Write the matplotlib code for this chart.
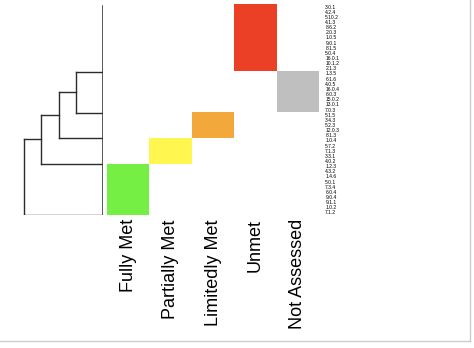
import matplotlib
matplotlib.use("Agg")
import matplotlib.pyplot as plt
from matplotlib.colors import ListedColormap
from matplotlib.lines import Line2D
import numpy as np

plt.rcParams['font.family'] = ['Liberation Sans', 'DejaVu Sans']

# columns of the heatmap
status_cols = ["Fully Met", "Partially Met", "Limitedly Met", "Unmet", "Not Assessed"]
status_colors = ["#76EF45", "#FFF650", "#F3A83B", "#EB4026", "#BFBFBF"]

# rows, top to bottom, grouped by status
unmet = ["3.0.1", "4.2.4", "5.10.2", "4.1.3", "8.6.2", "2.0.3", "1.0.5",
         "9.0.1", "8.1.5", "5.0.4", "16.0.1", "10.1.2", "2.1.3"]
not_assessed = ["1.3.5", "6.1.6", "4.0.5", "16.0.4", "6.0.3", "15.0.2", "13.0.1", "7.0.3"]
limitedly_met = ["5.1.5", "3.4.3", "5.2.3", "12.0.3", "8.1.3"]
partially_met = ["1.0.4", "5.7.2", "7.1.3", "3.3.1", "4.0.2"]
fully_met = ["1.2.3", "4.3.2", "1.4.6", "5.0.1", "7.3.4", "6.0.4", "9.0.4", "9.1.1", "1.0.2", "7.1.2"]

# order of groups down the heatmap (column index of each) and merge heights of the tree
groups = [(unmet, 3), (not_assessed, 4), (limitedly_met, 2), (partially_met, 1), (fully_met, 0)]
merge_heights = [27, 44, 62, 79]

row_labels = []
codes = []
for labels, col in groups:
    for lab in labels:
        row_labels.append(lab)
        row = np.zeros(len(status_cols))
        row[col] = col + 1
        codes.append(row)
codes = np.array(codes)
n_rows = len(row_labels)

W, H = 474, 348
fig = plt.figure(figsize=(W / 100, H / 100), dpi=100)

# heatmap
ax = fig.add_axes([107 / W, 1 - 215 / H, 212 / W, 211 / H])
cmap = ListedColormap(["white"] + status_colors)
ax.imshow(codes, cmap=cmap, vmin=-0.5, vmax=5.5, aspect="auto", interpolation="nearest")
ax.set_xticks(range(len(status_cols)))
ax.set_xticklabels(status_cols, rotation=90, fontsize=13, va="top")
ax.set_yticks(range(n_rows))
ax.set_yticklabels(row_labels, fontsize=3.6)
ax.yaxis.tick_right()
ax.tick_params(axis="both", length=0)
ax.tick_params(axis="x", pad=3)
ax.tick_params(axis="y", pad=4.5)
for s in ax.spines.values():
    s.set_visible(False)

# dendrogram
dax = fig.add_axes([20 / W, 1 - 215 / H, 83 / W, 211 / H])
ends = np.cumsum([len(g[0]) for g in groups])
lc = "#2b2b2b"
dax.plot([0, 0], [0, n_rows], color=lc, lw=1.1)
cur_pos, cur_h = ends[0], 0
for i, h in enumerate(merge_heights):
    nxt = ends[i + 1]
    dax.plot([cur_h, h], [cur_pos, cur_pos], color=lc, lw=1)
    dax.plot([0, h], [nxt, nxt], color=lc, lw=1)
    dax.plot([h, h], [cur_pos, nxt], color=lc, lw=1)
    cur_pos, cur_h = (cur_pos + nxt) / 2, h
dax.set_xlim(merge_heights[-1] * 83 / 79, 0)
dax.set_ylim(n_rows + 0.05, -0.3)
dax.axis("off")

# frame lines of the screenshot
fig.add_artist(Line2D([470 / W, 470 / W], [1 - 341 / H, 1], color="#cccccc", lw=1))
fig.add_artist(Line2D([0, 470 / W], [1 - 341 / H, 1 - 341 / H], color="#cccccc", lw=1))

fig.savefig("out.png", dpi=100)
